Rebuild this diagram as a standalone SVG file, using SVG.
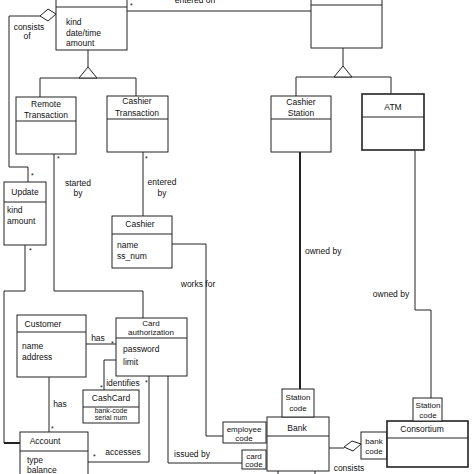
<svg xmlns="http://www.w3.org/2000/svg" width="474" height="474" viewBox="0 0 474 474">
<style>
.box{fill:#fff;stroke:#222;stroke-width:1}
.thick{stroke-width:1.6}
.sep{stroke:#222;stroke-width:1}
.c{fill:none;stroke:#222;stroke-width:1}
text{font-family:"Liberation Sans",Arial,sans-serif;font-size:8.5px;fill:#111}
.m{text-anchor:middle}
.s{font-size:8px}
.xs{font-size:7px}
.st{font-size:7px}
</style>
<rect width="474" height="474" fill="#fff"/>

<g id="connectors">
  <line class="c" x1="127" y1="11" x2="311" y2="11"/>
  <text x="195" y="3" class="m">entered on</text>
  <text x="130" y="8" class="st">*</text>

  <polyline class="c" points="40,16 9,16 9,167 28,167 28,182"/>
  <polygon points="56,14 48,9 40,16 48,21" fill="#fff" stroke="#222"/>
  <text x="29" y="30" class="m">consists</text>
  <text x="27" y="39" class="m">of</text>
  <text x="31" y="178" class="st">*</text>

  <line class="c" x1="88" y1="50" x2="88" y2="67"/>
  <polyline class="c" points="40,97 40,78 136,78 136,96"/>
  <polygon points="88,67 79,78 97,78" fill="#fff" stroke="#222"/>

  <line class="c" x1="343" y1="48" x2="343" y2="66"/>
  <polyline class="c" points="296,96 296,77 391,77 391,94"/>
  <polygon points="343,66 334,77 352,77" fill="#fff" stroke="#222"/>

  <polyline class="c" points="54,154 54,291 143,291 143,318"/>
  <text x="57" y="161" class="st">*</text>
  <text x="78" y="186" class="m">started</text>
  <text x="78" y="196" class="m">by</text>

  <line class="c" x1="143" y1="152" x2="143" y2="216"/>
  <text x="145" y="161" class="st">*</text>
  <text x="162" y="185" class="m">entered</text>
  <text x="162" y="196" class="m">by</text>

  <polyline class="c" points="172,244 206,244 206,436 223,436"/>
  <text x="198" y="287" class="m">works for</text>

  <polyline class="c" points="25,245 25,291 4,291 4,443"/>
  <line x1="4" y1="443" x2="20" y2="443" stroke="#222" stroke-width="2"/>
  <text x="29" y="253" class="st">*</text>

  <line class="c" x1="86" y1="344" x2="116" y2="344"/>
  <text x="98" y="341" class="m">has</text>
  <text x="111" y="346" class="st">*</text>

  <polyline class="c" points="116,360 104,360 104,390"/>
  <text x="123" y="386" class="m">identifies</text>
  <text x="100" y="390" class="st">*</text>
  <text x="145" y="385" class="st">*</text>

  <line class="c" x1="49" y1="377" x2="49" y2="432"/>
  <text x="60" y="407" class="m">has</text>
  <text x="51" y="431" class="st">*</text>

  <polyline class="c" points="88,462 149,462 149,376"/>
  <text x="93" y="459" class="st">*</text>
  <text x="123" y="455" class="m">accesses</text>

  <polyline class="c" points="168,376 168,463 242,463"/>
  <text x="192" y="457" class="m">issued by</text>

  <line x1="300" y1="152" x2="300" y2="389" stroke="#222" stroke-width="2"/>
  <text x="305" y="254">owned by</text>

  <polyline class="c" points="415,150 415,310 431,310 431,398"/>
  <text x="391" y="297" class="m">owned by</text>

  <line class="c" x1="329" y1="448" x2="344" y2="448"/>
  <polygon points="344,447 352,441 361,444 353,451" fill="#fff" stroke="#222"/>
  <text x="349" y="471" class="m">consists</text>

  <line class="c" x1="278" y1="471" x2="278" y2="474"/>
  <line class="c" x1="315" y1="471" x2="315" y2="474"/>
</g>

<g id="transaction">
  <rect class="box" x="56" y="-20" width="71" height="70"/>
  <line class="sep" x1="56" y1="7" x2="127" y2="7"/>
  <text x="66" y="25">kind</text>
  <text x="66" y="36">date/time</text>
  <text x="66" y="46">amount</text>
</g>

<g id="station">
  <rect class="box" x="311" y="-20" width="71" height="68"/>
  <line class="sep" x1="311" y1="5" x2="382" y2="5"/>
</g>

<g id="remote-transaction">
  <rect class="box" x="16" y="97" width="60" height="57"/>
  <line class="sep" x1="16" y1="121" x2="76" y2="121"/>
  <text x="46" y="107" class="m">Remote</text>
  <text x="46" y="118" class="m">Transaction</text>
</g>

<g id="cashier-transaction">
  <rect class="box" x="107" y="96" width="61" height="56"/>
  <line class="sep" x1="107" y1="119" x2="168" y2="119"/>
  <text x="137" y="104" class="m">Cashier</text>
  <text x="137" y="116" class="m">Transaction</text>
</g>

<g id="cashier-station">
  <rect class="box" x="271" y="96" width="60" height="56"/>
  <line class="sep" x1="271" y1="119" x2="331" y2="119"/>
  <text x="301" y="105" class="m">Cashier</text>
  <text x="301" y="116" class="m">Station</text>
</g>

<g id="atm">
  <rect class="box thick" x="362" y="94" width="62" height="56"/>
  <line class="sep" x1="362" y1="117" x2="424" y2="117" stroke-width="1.5"/>
  <text x="393" y="110" class="m">ATM</text>
</g>

<g id="update">
  <rect class="box" x="4" y="182" width="42" height="63"/>
  <line class="sep" x1="4" y1="202" x2="46" y2="202"/>
  <text x="25" y="195" class="m">Update</text>
  <text x="7" y="213">kind</text>
  <text x="7" y="224">amount</text>
</g>

<g id="cashier">
  <rect class="box" x="112" y="216" width="60" height="52"/>
  <line class="sep" x1="112" y1="234" x2="172" y2="234"/>
  <text x="140" y="227" class="m">Cashier</text>
  <text x="117" y="248">name</text>
  <text x="117" y="259">ss_num</text>
</g>

<g id="customer">
  <rect class="box" x="17" y="315" width="69" height="62"/>
  <line class="sep" x1="17" y1="332" x2="86" y2="332"/>
  <text x="43" y="327" class="m">Customer</text>
  <text x="22" y="349">name</text>
  <text x="22" y="360">address</text>
</g>

<g id="card-authorization">
  <rect class="box" x="116" y="318" width="71" height="58"/>
  <line class="sep" x1="116" y1="338" x2="187" y2="338" stroke-width="2"/>
  <text x="151" y="326" class="m s">Card</text>
  <text x="151" y="335" class="m s">authorization</text>
  <text x="123" y="352">password</text>
  <text x="123" y="365">limit</text>
</g>

<g id="cashcard">
  <rect class="box" x="83" y="390" width="56" height="33"/>
  <line class="sep" x1="83" y1="407" x2="139" y2="407"/>
  <text x="111" y="401" class="m">CashCard</text>
  <text x="111" y="413" class="m xs">bank-code</text>
  <text x="111" y="420" class="m xs">serial num</text>
</g>

<g id="account">
  <rect class="box" x="20" y="432" width="68" height="60"/>
  <line class="sep" x1="20" y1="451" x2="88" y2="451"/>
  <text x="45" y="444" class="m">Account</text>
  <text x="27" y="463">type</text>
  <text x="27" y="473">balance</text>
</g>

<g id="bank">
  <rect class="box" x="267" y="417" width="62" height="54"/>
  <line class="sep" x1="267" y1="436" x2="329" y2="436"/>
  <text x="297" y="431" class="m">Bank</text>
</g>

<g id="bank-station-code">
  <rect class="box" x="282" y="389" width="32" height="28"/>
  <text x="298" y="400" class="m s">Station</text>
  <text x="298" y="411" class="m s">code</text>
</g>

<g id="employee-code">
  <rect class="box" x="223" y="422" width="43" height="21"/>
  <text x="244" y="432" class="m s">employee</text>
  <text x="244" y="441" class="m s">code</text>
</g>

<g id="card-code">
  <rect class="box" x="242" y="450" width="24" height="19"/>
  <text x="254" y="459" class="m s">card</text>
  <text x="254" y="467" class="m s">code</text>
</g>

<g id="bank-code">
  <rect class="box" x="361" y="432" width="26" height="27"/>
  <text x="374" y="444" class="m s">bank</text>
  <text x="374" y="454" class="m s">code</text>
</g>

<g id="consortium">
  <rect class="box thick" x="387" y="421" width="81" height="46"/>
  <line class="sep" x1="387" y1="438" x2="468" y2="438"/>
  <text x="422" y="432" class="m">Consortium</text>
</g>

<g id="consortium-station-code">
  <rect class="box" x="413" y="398" width="29" height="23"/>
  <text x="428" y="408" class="m s">Station</text>
  <text x="428" y="418" class="m s">code</text>
</g>
</svg>
